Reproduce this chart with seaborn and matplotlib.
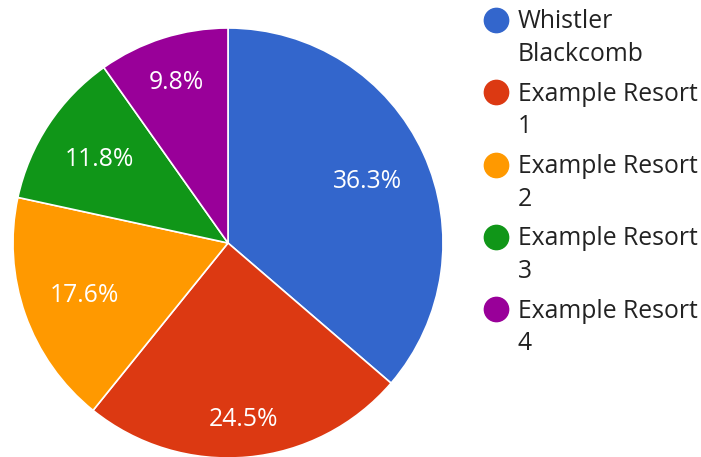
import matplotlib
matplotlib.use("Agg")
import numpy as np
import matplotlib.pyplot as plt
from matplotlib.lines import Line2D
import seaborn as sns

categories = ["Whistler Blackcomb", "Example Resort 1", "Example Resort 2",
              "Example Resort 3", "Example Resort 4"]
legend_labels = ["Whistler\nBlackcomb", "Example Resort\n1", "Example Resort\n2",
                 "Example Resort\n3", "Example Resort\n4"]
shares = [36.3, 24.5, 17.6, 11.8, 9.8]
colors = ["#3366cc", "#dc3912", "#ff9900", "#109618", "#990099"]

sns.set_theme(style="white")
plt.rcParams['font.family'] = ['Open Sans', 'Noto Sans', 'DejaVu Sans']

W, H = 701, 457
FS = 17.8
fig = plt.figure(figsize=(W / 100, H / 100), dpi=100)
fig.patch.set_facecolor("white")

cx, cy, r = 228, 243, 215
ax = fig.add_axes([(cx - r) / W, (H - cy - r) / H, 2 * r / W, 2 * r / H])
wedges, texts, autotexts = ax.pie(
    shares, colors=sns.color_palette(colors), startangle=90, counterclock=False,
    autopct="%.1f%%", pctdistance=0.71, radius=1,
    wedgeprops=dict(edgecolor="white", linewidth=1.2),
    textprops=dict(color="white", fontsize=FS))
ax.set_xlim(-1, 1)
ax.set_ylim(-1, 1)
ax.set_aspect("auto")
ax.axis("off")

# place labels so the far edge of each label box sits at a fixed radius
fig.canvas.draw()
renderer = fig.canvas.get_renderer()
far = 0.877 * r
for w, t in zip(wedges, autotexts):
    ang = np.deg2rad((w.theta1 + w.theta2) / 2)
    bb = t.get_window_extent(renderer)
    hw, hh = bb.width / 2, bb.height / 2 * 0.8
    d = far - (hw * abs(np.cos(ang)) + hh * abs(np.sin(ang)))
    t.set_position((d / r * np.cos(ang), d / r * np.sin(ang) - 2 / r))
    t.set_va("center")
    t.set_ha("center")

# legend
x_dot, x_txt = 496, 518
y0, step = 20, 72.3
for i, (lab, col) in enumerate(zip(legend_labels, colors)):
    y = y0 + i * step
    fig.add_artist(Line2D([x_dot / W], [1 - y / H], marker="o", markersize=17.5,
                          color=col, linestyle="none", transform=fig.transFigure))
    fig.text(x_txt / W, 1 - (y - 10.5) / H, lab, fontsize=FS, color="#222222",
             va="top", ha="left", linespacing=1.39)

fig.savefig("out.png", dpi=100, facecolor="white")
